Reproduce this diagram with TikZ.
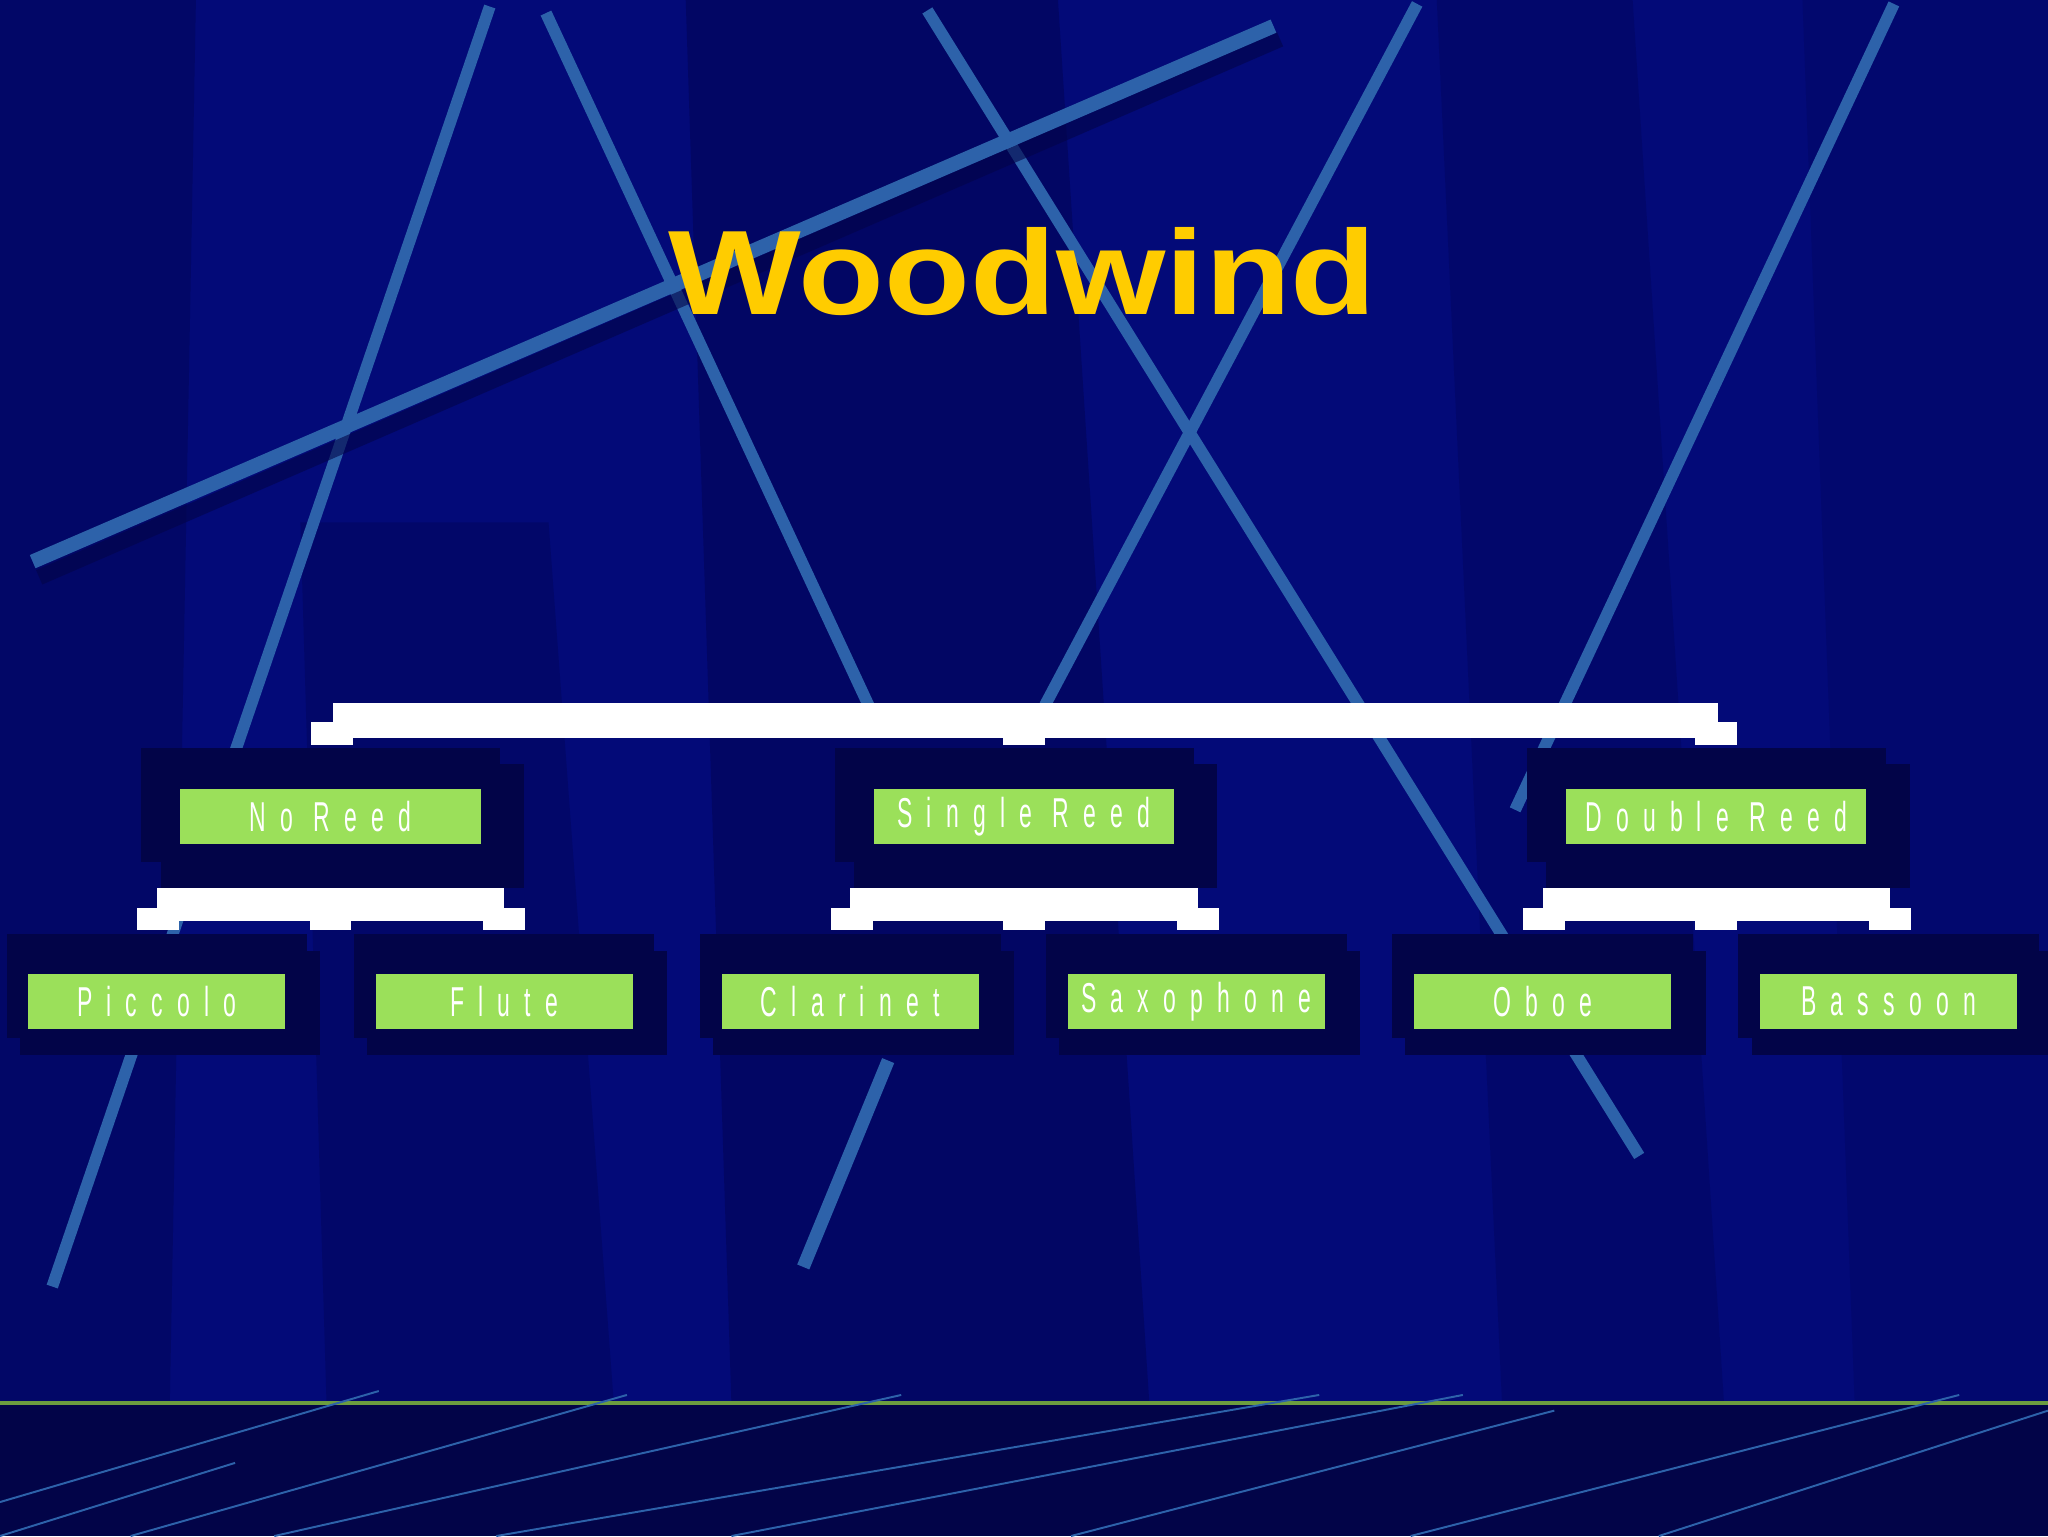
\documentclass[tikz,border=0pt]{standalone}
\usepackage{fontspec}
\setmainfont{Liberation Sans}
\newfontfamily\narrowf[FakeStretch=0.55,LetterSpace=34]{Liberation Sans}
\begin{document}
\begin{tikzpicture}[x=1pt,y=-1pt,
  streak/.style={line width=9pt,draw=streakc},
  darkbox/.style={fill=boxdark},
  leaf/.style={fill=greenc,minimum width=197pt,minimum height=42pt,inner sep=0pt,text=white,font=\narrowf\fontsize{32}{32}\selectfont},
  cat/.style={leaf,minimum width=230pt},
  wbar/.style={fill=white}]
\definecolor{bg}{HTML}{030A78}
\definecolor{bgdark}{HTML}{020660}
\definecolor{streakc}{HTML}{2D62AA}
\definecolor{boxdark}{HTML}{020448}
\definecolor{greenc}{HTML}{9BE05A}
\definecolor{titlec}{HTML}{FFCC00}
\useasboundingbox (0,0) rectangle (1568,1176);
\fill[bg] (0,0) rectangle (1568,1176);
% darker vertical bands
\fill[bgdark,opacity=0.7] (0,0) -- (150,0) -- (130,1075) -- (0,1075) -- cycle;
\fill[bgdark,opacity=0.8] (525,0) -- (810,0) -- (880,1075) -- (560,1075) -- cycle;
\fill[bgdark,opacity=0.5] (1100,0) -- (1250,0) -- (1320,1075) -- (1150,1075) -- cycle;
\fill[bgdark,opacity=0.6] (230,400) -- (420,400) -- (470,1075) -- (250,1075) -- cycle;
\fill[bgdark,opacity=0.4] (1380,0) -- (1568,0) -- (1568,1075) -- (1420,1075) -- cycle;
% streaks
\draw[streak] (375,5) -- (40,985);
\draw[streak] (418,10) -- (665,540);
\draw[streak] (710,8) -- (1255,885);
\draw[streak] (1085,3) -- (800,540);
\draw[streak] (1450,3) -- (1160,620);
\draw[line width=12pt,draw=boxdark,opacity=0.6] (980,30) -- (30,442);
\draw[streak,line width=11pt] (975,20) -- (25,430);
\draw[streak,line width=10pt] (680,812) -- (615,970);
% bottom band
\fill[boxdark] (0,1075) rectangle (1568,1176);
\draw[greenc!70!black,line width=3pt] (0,1074) -- (1568,1074);
\foreach \a/\b/\c/\d in {0/1150/290/1065, 100/1176/480/1068, 210/1176/690/1068, 380/1176/1010/1068, 560/1176/1120/1068, 820/1176/1190/1080, 1080/1176/1500/1068, 1270/1176/1568/1080, 0/1176/180/1120}
  \draw[streakc,line width=1.5pt] (\a,\b) -- (\c,\d);
% title
\node[text=titlec,font=\bfseries\fontsize{92}{92}\selectfont] (title) at (783,208) {\scalebox{1.17}[1]{Woodwind}};
% top bracket
\fill[wbar] (255,538) rectangle (1315,565);
\fill[wbar] (238,553) rectangle (270,570);
\fill[wbar] (768,553) rectangle (800,570);
\fill[wbar] (1298,553) rectangle (1330,570);
% dark boxes around categories
\foreach \x in {253,784,1314}{
  \fill[darkbox] (\x-145,573) rectangle (\x+130,660);
  \fill[darkbox] (\x-130,585) rectangle (\x+148,680);
}
% sub-brackets
\foreach \x in {253,784,1314}{
  \fill[wbar] (\x-133,680) rectangle (\x+133,705);
  \fill[wbar] (\x-148,695) rectangle (\x-116,712);
  \fill[wbar] (\x-16,680) rectangle (\x+16,712);
  \fill[wbar] (\x+117,695) rectangle (\x+149,712);
}
% dark boxes around leaves
\foreach \x in {120,386,651,916,1181,1446}{
  \fill[darkbox] (\x-115,715) rectangle (\x+115,795);
  \fill[darkbox] (\x-105,728) rectangle (\x+125,808);
}
\node[cat] (noreed) at (253,625) {No Reed};
\node[cat] (single) at (784,625) {Single Reed};
\node[cat] (double) at (1314,625) {Double Reed};
\node[leaf] (piccolo) at (120,767) {Piccolo};
\node[leaf] (flute) at (386,767) {Flute};
\node[leaf] (clarinet) at (651,767) {Clarinet};
\node[leaf] (sax) at (916,767) {Saxophone};
\node[leaf] (oboe) at (1181,767) {Oboe};
\node[leaf] (bassoon) at (1446,767) {Bassoon};
\end{tikzpicture}
\end{document}
